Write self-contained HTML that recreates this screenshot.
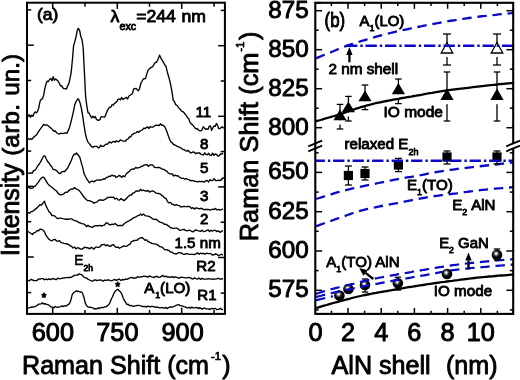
<!DOCTYPE html>
<html><head><meta charset="utf-8"><title>Raman figure</title>
<style>html,body{margin:0;padding:0;background:#fff;overflow:hidden}svg text{fill:#000;stroke:#000;stroke-linejoin:round}</style></head>
<body>
<svg width="520" height="380" viewBox="0 0 520 380" style="display:block;font-family:'Liberation Sans',sans-serif">
<rect x="0" y="0" width="520" height="380" fill="#fff"/>
<g id="left">
<polyline points="28.0,115.3 29.2,114.9 30.4,117.2 31.6,115.3 32.8,115.9 34.0,113.6 35.2,111.9 36.4,112.8 37.6,111.3 38.8,107.9 40.0,101.4 41.2,99.4 42.4,98.7 43.6,95.4 44.8,88.6 46.0,84.1 47.2,81.1 48.4,81.5 49.6,79.5 50.8,78.5 52.0,80.8 53.2,76.6 54.4,80.2 55.6,79.0 56.8,79.9 58.0,81.0 59.2,83.0 60.4,85.8 61.6,85.7 62.8,87.8 64.0,88.7 65.2,88.6 66.4,89.0 67.6,85.8 68.8,83.8 70.0,78.7 71.2,72.1 72.4,60.0 73.6,45.9 74.8,41.6 76.0,37.0 77.2,30.7 78.3,28.3 79.6,30.3 80.8,36.6 82.0,39.5 83.2,48.0 84.4,72.1 85.6,96.5 86.8,105.8 88.0,112.6 89.2,113.2 90.4,115.8 91.6,118.0 92.8,116.1 94.0,117.7 95.2,116.4 96.4,119.3 97.6,120.2 98.8,120.2 100.0,119.6 101.2,116.6 102.4,116.9 103.6,116.9 104.8,117.1 106.0,113.9 107.2,110.9 108.4,108.8 109.6,107.1 110.8,107.2 112.0,104.8 113.2,105.0 114.4,103.4 115.6,102.8 116.8,101.6 118.0,99.3 119.2,99.0 120.4,99.9 121.6,97.5 122.8,99.5 124.0,98.6 125.2,98.1 126.4,97.3 127.6,99.0 128.8,96.2 130.0,95.3 131.2,94.5 132.4,93.7 133.6,89.2 134.8,88.6 136.0,88.5 137.2,89.6 138.4,90.8 139.6,88.5 140.8,83.4 142.0,81.2 143.2,79.0 144.4,78.9 145.6,78.3 146.8,74.1 148.0,70.4 149.2,69.1 150.4,67.9 151.6,67.4 152.8,66.4 154.0,64.4 155.2,62.5 156.4,62.4 157.6,60.2 158.8,57.3 159.6,55.2 161.2,58.7 162.4,60.6 163.6,62.6 164.8,64.9 166.0,66.3 167.2,71.7 168.4,75.8 169.6,80.0 170.8,85.3 172.0,91.9 173.2,100.2 174.4,101.5 175.6,104.6 176.8,105.1 178.0,106.7 179.2,108.5 180.4,109.5 181.6,111.2 182.8,111.6 184.0,112.7 185.2,114.3 186.4,115.6 187.6,117.8 188.8,118.7 190.0,122.4 191.2,123.9 192.4,124.6 193.6,126.1 194.8,127.7 196.0,128.9 197.2,128.5 198.4,130.2 199.6,130.6 200.8,130.9 202.0,129.8 203.2,126.8 204.4,128.0 205.6,129.4 206.8,128.8 208.0,129.4 209.2,126.2 210.4,126.0 211.6,130.3 212.8,127.9 214.0,126.0 215.2,126.4 216.4,123.4 217.6,125.5 218.8,128.7 220.0,128.5 221.2,127.4 222.4,127.0 223.6,128.3" fill="none" stroke="#000" stroke-width="1.35" stroke-linejoin="round" />
<polyline points="28.0,138.1 29.3,139.6 30.6,138.8 31.9,139.3 33.2,137.8 34.5,136.3 35.8,135.7 37.1,134.0 38.4,131.9 39.7,129.9 41.0,128.1 42.3,126.3 43.6,124.4 44.9,125.1 46.2,124.8 47.5,125.2 48.8,126.2 50.1,127.6 51.4,128.4 52.7,130.0 54.0,131.3 55.3,131.0 56.6,132.7 57.9,133.5 59.2,134.1 60.5,133.2 61.8,133.3 63.1,133.6 64.4,133.2 65.7,132.8 67.0,133.2 68.3,130.4 69.6,127.2 70.9,122.2 72.2,116.9 73.5,111.1 74.8,104.6 76.1,101.4 78.0,98.7 78.7,99.4 80.0,102.7 81.3,107.8 82.6,115.4 83.9,124.4 85.2,132.7 86.5,138.2 87.8,141.9 89.1,143.4 90.4,145.0 91.7,146.8 93.0,147.0 94.3,146.5 95.6,146.4 96.9,146.3 98.2,147.9 99.5,147.3 100.8,145.3 102.1,146.4 103.4,146.4 104.7,145.2 106.0,144.1 107.3,144.3 108.6,142.9 109.9,141.9 111.2,143.1 112.5,141.9 113.8,141.4 115.1,142.3 116.4,140.8 117.7,141.7 119.0,141.5 120.3,139.8 121.6,140.5 122.9,141.1 124.2,141.2 125.5,141.0 126.8,139.5 128.1,138.8 129.4,137.0 130.7,137.0 132.0,134.7 133.3,133.9 134.6,133.2 135.9,132.9 137.2,131.5 138.5,132.4 139.8,131.1 141.1,130.5 142.4,129.9 143.7,128.1 145.0,128.6 146.3,127.6 147.6,126.9 148.9,128.5 150.2,126.6 151.5,127.1 152.8,127.2 154.1,126.3 155.4,125.2 156.7,125.3 158.0,125.1 159.3,125.5 160.6,123.8 161.9,125.4 163.2,125.2 164.5,126.4 165.8,129.0 167.1,132.3 168.4,136.1 169.7,139.5 171.0,141.9 172.3,143.0 173.6,144.5 174.9,145.0 176.2,145.6 177.5,146.7 178.8,146.8 180.1,147.6 181.4,148.1 182.7,149.6 184.0,149.4 185.3,150.5 186.6,151.2 187.9,150.4 189.2,151.4 190.5,152.7 191.8,152.7 193.1,151.8 194.4,152.4 195.7,153.7 197.0,152.8 198.3,153.2 199.6,152.8 200.9,154.4 202.2,154.6 203.5,154.8 204.8,152.8 206.1,154.6 207.4,154.7 208.7,153.3 210.0,155.3 211.3,155.4 212.6,153.2 213.9,155.4 215.2,154.0 216.5,154.4 217.8,156.0 219.1,155.8 220.4,154.0 221.7,154.0 223.0,153.5" fill="none" stroke="#000" stroke-width="1.35" stroke-linejoin="round" />
<polyline points="28.0,173.7 29.4,173.0 30.8,172.9 32.2,173.2 33.6,170.7 35.0,170.1 36.4,168.3 37.8,165.7 39.2,164.0 40.6,161.9 42.0,159.0 43.4,156.2 45.0,156.0 46.2,158.7 47.6,161.5 49.0,162.9 50.4,165.3 51.8,166.8 53.2,169.5 54.6,169.7 56.0,170.3 57.4,171.6 58.8,173.2 60.2,173.7 61.6,172.0 63.0,171.3 64.4,171.8 65.8,170.2 67.2,168.7 68.6,166.1 70.0,163.1 71.4,160.2 72.8,156.4 74.2,154.2 75.6,154.2 76.5,153.0 78.4,155.2 79.8,157.3 81.2,162.4 82.6,167.1 84.0,173.3 85.4,176.5 86.8,178.9 88.2,181.0 89.6,182.9 91.0,181.4 92.4,181.1 93.8,181.9 95.2,180.9 96.6,180.2 98.0,180.1 99.4,180.0 100.8,180.0 102.2,179.6 103.6,178.8 105.0,179.0 106.4,177.4 107.8,177.1 109.2,176.1 110.6,176.3 112.0,175.1 113.4,176.0 114.8,175.7 116.2,177.5 117.6,176.7 119.0,175.5 120.4,176.0 121.8,177.4 123.2,175.8 124.6,176.8 126.0,174.4 127.4,172.7 128.8,171.9 130.2,170.2 131.6,169.3 133.0,169.0 134.4,169.1 135.8,167.3 137.2,168.2 138.6,167.7 140.0,167.3 141.4,166.4 142.8,166.0 144.2,165.0 145.6,164.9 147.0,164.7 148.4,166.2 149.8,165.0 151.2,164.8 152.6,164.9 154.0,167.0 155.4,167.5 156.8,167.6 158.2,167.3 159.6,167.7 161.0,168.4 162.4,169.3 163.8,169.3 165.2,170.5 166.6,170.9 168.0,172.8 169.4,173.7 170.8,173.8 172.2,174.0 173.6,176.0 175.0,175.2 176.4,175.9 177.8,175.7 179.2,177.0 180.6,177.8 182.0,178.3 183.4,178.2 184.8,179.2 186.2,178.5 187.6,179.4 189.0,179.6 190.4,180.8 191.8,180.5 193.2,180.6 194.6,181.4 196.0,181.3 197.4,181.8 198.8,181.4 200.2,181.6 201.6,181.4 203.0,181.6 204.4,182.0 205.8,180.7 207.2,180.6 208.6,182.0 210.0,179.7 211.4,180.6 212.8,180.3 214.2,178.7 215.6,180.5 217.0,180.7 218.4,180.1 219.8,180.5 221.2,180.0 222.6,178.0 224.0,178.0" fill="none" stroke="#000" stroke-width="1.35" stroke-linejoin="round" />
<polyline points="28.0,187.0 29.5,188.0 31.0,188.4 32.5,188.2 34.0,186.6 35.5,185.9 37.0,183.9 38.5,181.9 40.0,179.7 41.5,177.8 43.0,177.0 44.0,177.6 46.0,180.6 47.5,183.4 49.0,185.1 50.5,186.2 52.0,187.2 53.5,188.7 55.0,190.0 56.5,190.9 58.0,193.4 59.5,194.4 61.0,195.0 62.5,194.3 64.0,193.8 65.5,192.1 67.0,192.4 68.5,190.9 70.0,189.7 71.5,189.0 73.0,189.1 74.5,187.6 76.0,188.8 77.5,189.5 79.0,190.3 80.5,192.2 82.0,194.3 83.5,196.5 85.0,198.3 86.5,199.7 88.0,200.7 89.5,200.6 91.0,201.4 92.5,201.9 94.0,203.2 95.5,202.4 97.0,202.1 98.5,200.4 100.0,200.0 101.5,200.0 103.0,200.3 104.5,199.6 106.0,198.8 107.5,197.5 109.0,197.4 110.5,197.1 112.0,197.4 113.5,197.2 115.0,199.0 116.5,198.1 118.0,199.9 119.5,200.1 121.0,198.6 122.5,199.7 124.0,200.6 125.5,199.5 127.0,197.7 128.5,196.3 130.0,195.1 131.5,195.0 133.0,193.0 134.5,192.6 136.0,191.0 137.5,191.0 139.0,191.2 140.5,189.3 142.0,190.7 143.5,190.0 145.0,191.0 146.5,191.0 148.0,190.5 149.5,192.0 151.0,191.4 152.5,190.9 154.0,191.4 155.5,192.8 157.0,193.3 158.5,193.5 160.0,193.8 161.5,195.1 163.0,196.1 164.5,197.9 166.0,198.5 167.5,201.5 169.0,202.9 170.5,202.4 172.0,204.3 173.5,204.5 175.0,205.3 176.5,204.7 178.0,205.3 179.5,205.7 181.0,207.1 182.5,206.6 184.0,206.3 185.5,206.6 187.0,206.5 188.5,206.3 190.0,206.8 191.5,208.5 193.0,207.7 194.5,209.1 196.0,207.9 197.5,208.2 199.0,208.9 200.5,208.3 202.0,208.5 203.5,209.6 205.0,209.5 206.5,209.5 208.0,209.3 209.5,209.9 211.0,210.0 212.5,209.2 214.0,209.6 215.5,208.4 217.0,209.9 218.5,209.4 220.0,210.1 221.5,209.7 223.0,208.7" fill="none" stroke="#000" stroke-width="1.35" stroke-linejoin="round" />
<polyline points="28.0,212.2 29.5,213.4 31.0,211.6 32.5,211.6 34.0,210.3 35.5,209.1 37.0,207.9 38.5,206.3 40.0,204.6 41.5,205.2 43.0,203.1 44.4,201.2 46.0,205.9 47.5,208.7 49.0,211.7 50.5,213.1 52.0,215.6 53.5,215.7 55.0,216.1 56.5,217.9 58.0,218.6 59.5,218.1 61.0,218.1 62.5,218.6 64.0,218.8 65.5,219.4 67.0,219.0 68.5,219.3 70.0,218.8 71.5,218.8 73.0,219.8 74.5,220.6 76.0,220.9 77.5,221.6 79.0,222.5 80.5,223.1 82.0,223.7 83.5,223.9 85.0,224.8 86.5,226.6 88.0,225.4 89.5,226.5 91.0,226.9 92.5,227.4 94.0,226.0 95.5,225.9 97.0,225.7 98.5,225.7 100.0,225.4 101.5,226.0 103.0,225.4 104.5,225.1 106.0,223.0 107.5,223.0 109.0,224.5 110.5,224.9 112.0,224.1 113.5,224.5 115.0,223.6 116.5,224.6 118.0,225.9 119.5,225.5 121.0,225.4 122.5,225.5 124.0,224.0 125.5,222.8 127.0,221.8 128.5,221.2 130.0,220.2 131.5,219.4 133.0,218.2 134.5,217.4 136.0,216.8 137.5,215.8 139.0,215.4 140.5,214.1 142.0,215.3 143.5,213.9 145.0,215.6 146.5,215.9 148.0,216.1 149.5,216.6 151.0,217.5 152.5,218.8 154.0,219.5 155.5,219.2 157.0,219.8 158.5,221.3 160.0,222.1 161.5,222.6 163.0,223.1 164.5,224.4 166.0,224.2 167.5,225.4 169.0,226.3 170.5,227.8 172.0,227.9 173.5,228.6 175.0,228.2 176.5,228.1 178.0,228.6 179.5,230.3 181.0,230.2 182.5,229.7 184.0,229.4 185.5,230.4 187.0,230.8 188.5,230.3 190.0,230.2 191.5,231.3 193.0,231.9 194.5,230.4 196.0,230.0 197.5,230.6 199.0,230.8 200.5,231.4 202.0,230.3 203.5,231.6 205.0,231.3 206.5,230.6 208.0,229.8 209.5,231.5 211.0,230.2 212.5,231.3 214.0,230.3 215.5,230.4 217.0,231.6 218.5,230.8 220.0,232.4 221.5,231.4 223.0,230.7" fill="none" stroke="#000" stroke-width="1.35" stroke-linejoin="round" />
<polyline points="28.0,231.5 29.5,232.5 31.0,233.5 32.5,234.5 34.0,232.6 35.5,232.4 37.0,230.6 38.5,230.8 40.0,229.2 41.5,229.3 43.0,230.0 44.5,231.9 46.0,235.4 47.5,237.4 49.0,239.3 50.5,240.4 52.0,240.8 53.5,239.6 55.0,239.3 56.5,241.0 58.0,241.1 59.5,240.6 61.0,242.6 62.5,242.9 64.0,243.3 65.5,243.6 67.0,244.0 68.5,244.5 70.0,245.6 71.5,246.4 73.0,248.0 74.5,247.0 76.0,248.9 77.5,247.7 79.0,248.1 80.5,249.1 82.0,249.1 83.5,248.1 85.0,247.2 86.5,247.9 88.0,247.7 89.5,248.9 91.0,247.5 92.5,248.0 94.0,249.2 95.5,247.1 97.0,247.2 98.5,247.4 100.0,246.8 101.5,245.0 103.0,244.6 104.5,244.4 106.0,245.9 107.5,244.7 109.0,246.0 110.5,246.4 112.0,245.0 113.5,244.7 115.0,246.7 116.5,247.3 118.0,247.1 119.5,248.3 121.0,247.3 122.5,246.7 124.0,245.8 125.5,246.4 127.0,246.1 128.5,244.8 130.0,244.1 131.5,241.7 133.0,241.0 134.5,240.5 136.0,240.3 137.5,240.0 139.0,238.5 140.5,237.8 142.0,237.5 143.5,238.6 145.0,240.2 146.5,239.8 148.0,241.5 149.5,242.1 151.0,243.0 152.5,243.6 154.0,243.9 155.5,243.9 157.0,244.6 158.5,245.4 160.0,246.8 161.5,246.8 163.0,247.9 164.5,249.6 166.0,249.6 167.5,250.0 169.0,250.6 170.5,252.0 172.0,252.1 173.5,253.6 175.0,253.6 176.5,254.0 178.0,252.8 179.5,252.7 181.0,252.9 182.5,253.8 184.0,254.4 185.5,254.0 187.0,253.7 188.5,254.2 190.0,254.4 191.5,254.4 193.0,254.4 194.5,254.5 196.0,253.9 197.5,252.8 199.0,254.3 200.5,253.1 202.0,253.7 203.5,253.3 205.0,254.2 206.5,253.2 208.0,253.5 209.5,253.6 211.0,253.6 212.5,255.2 214.0,254.6 215.5,254.0 217.0,254.3 218.5,255.7 220.0,255.0 221.5,254.2 223.0,255.2" fill="none" stroke="#000" stroke-width="1.35" stroke-linejoin="round" />
<polyline points="28.0,280.3 29.5,280.8 31.0,279.3 32.5,280.0 34.0,280.5 35.5,280.6 37.0,280.5 38.5,279.0 40.0,279.2 41.5,278.7 43.0,278.6 44.5,279.8 46.0,279.1 47.5,279.7 49.0,278.8 50.5,279.6 52.0,278.9 53.5,278.5 55.0,279.3 56.5,279.5 58.0,278.1 59.5,278.8 61.0,278.7 62.5,278.0 64.0,278.1 65.5,277.6 67.0,277.6 68.5,277.5 70.0,277.5 71.5,277.2 73.0,276.1 74.5,275.3 76.0,275.2 77.5,275.1 79.0,273.9 80.5,274.3 82.0,274.9 83.5,276.7 85.0,277.7 86.5,278.1 88.0,279.1 89.5,280.0 91.0,280.7 92.5,281.2 94.0,280.1 95.5,279.9 97.0,280.7 98.5,280.2 100.0,280.0 101.5,280.1 103.0,281.2 104.5,280.1 106.0,280.4 107.5,280.0 109.0,280.0 110.5,280.7 112.0,280.8 113.5,279.8 115.0,279.5 116.5,280.4 118.0,279.5 119.5,279.2 121.0,280.5 122.5,279.5 124.0,279.9 125.5,279.0 127.0,279.4 128.5,278.6 130.0,277.8 131.5,277.4 133.0,278.0 134.5,277.9 136.0,278.1 137.5,276.7 139.0,277.3 140.5,276.8 142.0,276.9 143.5,276.2 145.0,276.3 146.5,276.5 148.0,277.1 149.5,275.9 151.0,276.6 152.5,277.2 154.0,277.6 155.5,276.5 157.0,276.3 158.5,277.4 160.0,277.2 161.5,276.3 163.0,275.4 164.5,276.8 166.0,276.1 167.5,277.1 169.0,276.8 170.5,277.3 172.0,276.5 173.5,277.6 175.0,276.8 176.5,277.2 178.0,278.0 179.5,278.1 181.0,277.1 182.5,277.3 184.0,277.6 185.5,277.9 187.0,277.8 188.5,277.4 190.0,277.7 191.5,278.6 193.0,279.0 194.5,277.8 196.0,278.7 197.5,279.1 199.0,278.0 200.5,279.4 202.0,278.3 203.5,279.1 205.0,279.1 206.5,279.2 208.0,278.7 209.5,278.9 211.0,279.1 212.5,278.9 214.0,279.3 215.5,278.9 217.0,278.9 218.5,278.2 220.0,279.2 221.5,279.0 223.0,278.5" fill="none" stroke="#000" stroke-width="1.35" stroke-linejoin="round" />
<polyline points="28.0,307.8 29.3,307.8 30.6,307.3 31.9,306.8 33.2,307.2 34.5,306.6 35.8,306.2 37.1,305.5 38.4,304.2 39.7,304.1 41.0,303.9 42.3,302.8 43.6,304.0 44.9,303.5 46.2,304.4 47.5,304.5 48.8,305.1 50.1,306.3 51.4,307.2 52.7,307.1 54.0,307.7 55.3,306.5 56.6,307.3 57.9,307.3 59.2,306.8 60.5,306.7 61.8,305.7 63.1,306.6 64.4,305.7 65.7,306.1 67.0,305.6 68.3,304.3 69.6,303.6 70.9,300.0 72.2,294.7 73.5,292.9 74.8,292.0 76.5,290.7 77.4,291.5 78.7,291.2 80.0,292.0 81.3,291.9 82.6,293.4 83.9,297.2 85.2,302.9 86.5,305.5 87.8,306.8 89.1,307.3 90.4,307.1 91.7,307.6 93.0,307.8 94.3,309.0 95.6,308.6 96.9,308.9 98.2,307.8 99.5,308.6 100.8,307.5 102.1,307.7 103.4,307.5 104.7,306.8 106.0,306.9 107.3,305.7 108.6,304.7 109.9,302.8 111.2,299.3 112.5,296.8 113.8,293.6 115.1,291.3 116.4,290.3 117.8,289.3 119.0,290.6 120.3,291.7 121.6,293.6 122.9,297.2 124.2,300.2 125.5,302.2 126.8,304.5 128.1,304.2 129.4,305.6 130.7,305.3 132.0,305.9 133.3,306.4 134.6,305.8 135.9,305.9 137.2,305.4 138.5,305.4 139.8,305.7 141.1,305.9 142.4,306.6 143.7,306.4 145.0,306.5 146.3,307.1 147.6,306.1 148.9,306.3 150.2,307.0 151.5,306.3 152.8,306.4 154.1,307.0 155.4,306.8 156.7,307.3 158.0,307.2 159.3,307.8 160.6,307.9 161.9,307.4 163.2,308.1 164.5,308.0 165.8,307.5 167.1,308.6 168.4,307.6 169.7,307.1 171.0,306.8 172.3,307.0 173.6,306.7 174.9,306.0 176.2,305.3 177.5,304.9 178.8,304.6 180.1,305.7 181.4,305.8 182.7,306.0 184.0,306.8 185.3,306.9 186.6,307.8 187.9,307.9 189.2,307.3 190.5,308.3 191.8,307.1 193.1,307.9 194.4,307.8 195.7,307.6 197.0,307.4 198.3,308.6 199.6,307.6 200.9,308.4 202.2,309.1 203.5,308.1 204.8,308.2 206.1,308.9 207.4,308.8 208.7,309.0 210.0,309.4 211.3,308.5 212.6,308.7 213.9,308.7 215.2,308.3 216.5,309.6 217.8,309.4 219.1,309.3 220.4,308.3 221.7,309.5 223.0,309.4" fill="none" stroke="#000" stroke-width="1.35" stroke-linejoin="round" />
<rect x="27.0" y="2.7" width="197.9" height="311.2" fill="none" stroke="#000" stroke-width="2.0"/>
<line x1="52.7" y1="313.9" x2="52.7" y2="307.8" stroke="#000" stroke-width="1.5" />
<line x1="52.7" y1="2.7" x2="52.7" y2="8.9" stroke="#000" stroke-width="1.5" />
<line x1="85.0" y1="313.9" x2="85.0" y2="309.9" stroke="#000" stroke-width="1.5" />
<line x1="85.0" y1="2.7" x2="85.0" y2="6.7" stroke="#000" stroke-width="1.5" />
<line x1="117.3" y1="313.9" x2="117.3" y2="307.8" stroke="#000" stroke-width="1.5" />
<line x1="117.3" y1="2.7" x2="117.3" y2="8.9" stroke="#000" stroke-width="1.5" />
<line x1="149.5" y1="313.9" x2="149.5" y2="309.9" stroke="#000" stroke-width="1.5" />
<line x1="149.5" y1="2.7" x2="149.5" y2="6.7" stroke="#000" stroke-width="1.5" />
<line x1="181.7" y1="313.9" x2="181.7" y2="307.8" stroke="#000" stroke-width="1.5" />
<line x1="181.7" y1="2.7" x2="181.7" y2="8.9" stroke="#000" stroke-width="1.5" />
<line x1="214.0" y1="313.9" x2="214.0" y2="309.9" stroke="#000" stroke-width="1.5" />
<line x1="214.0" y1="2.7" x2="214.0" y2="6.7" stroke="#000" stroke-width="1.5" />
<line x1="27.0" y1="9.9" x2="31.2" y2="9.9" stroke="#000" stroke-width="1.5" />
<line x1="224.9" y1="10.4" x2="220.7" y2="10.4" stroke="#000" stroke-width="1.5" />
<line x1="27.0" y1="45.2" x2="33.8" y2="45.2" stroke="#000" stroke-width="1.5" />
<line x1="224.9" y1="45.7" x2="218.1" y2="45.7" stroke="#000" stroke-width="1.5" />
<line x1="27.0" y1="80.5" x2="31.2" y2="80.5" stroke="#000" stroke-width="1.5" />
<line x1="224.9" y1="81.0" x2="220.7" y2="81.0" stroke="#000" stroke-width="1.5" />
<line x1="27.0" y1="115.8" x2="33.8" y2="115.8" stroke="#000" stroke-width="1.5" />
<line x1="224.9" y1="116.3" x2="218.1" y2="116.3" stroke="#000" stroke-width="1.5" />
<line x1="27.0" y1="151.1" x2="31.2" y2="151.1" stroke="#000" stroke-width="1.5" />
<line x1="224.9" y1="151.6" x2="220.7" y2="151.6" stroke="#000" stroke-width="1.5" />
<line x1="27.0" y1="186.4" x2="33.8" y2="186.4" stroke="#000" stroke-width="1.5" />
<line x1="224.9" y1="186.9" x2="218.1" y2="186.9" stroke="#000" stroke-width="1.5" />
<line x1="27.0" y1="221.7" x2="31.2" y2="221.7" stroke="#000" stroke-width="1.5" />
<line x1="224.9" y1="222.2" x2="220.7" y2="222.2" stroke="#000" stroke-width="1.5" />
<line x1="27.0" y1="257.0" x2="33.8" y2="257.0" stroke="#000" stroke-width="1.5" />
<line x1="224.9" y1="257.5" x2="218.1" y2="257.5" stroke="#000" stroke-width="1.5" />
<line x1="27.0" y1="292.6" x2="31.2" y2="292.6" stroke="#000" stroke-width="1.5" />
<line x1="224.9" y1="293.1" x2="220.7" y2="293.1" stroke="#000" stroke-width="1.5" />
<text transform="translate(52.90,341.10) scale(1.025,1.050)" font-size="24.7" stroke-width="0.95" text-anchor="middle">600</text>
<text transform="translate(117.40,341.10) scale(1.025,1.050)" font-size="24.7" stroke-width="0.95" text-anchor="middle">750</text>
<text transform="translate(182.60,341.10) scale(1.025,1.050)" font-size="24.7" stroke-width="0.95" text-anchor="middle">900</text>
<text transform="translate(22.00,374.20) scale(1.025,1.020)" font-size="24.5" stroke-width="0.85" text-anchor="start">Raman Shift (cm<tspan dy="-13.6" dx="1.9" font-size="11" stroke-width="0.7">-1</tspan><tspan dy="13.6" dx="1.4">)</tspan></text>
<text transform="translate(19.00,256.00) rotate(-90) scale(1.000,1.020)" font-size="24.3" stroke-width="0.85" text-anchor="start" word-spacing="3"><tspan font-size="24.9">Intensity</tspan><tspan dx="-2.2"> (</tspan><tspan letter-spacing="0.6">arb.</tspan><tspan dx="-2.2"> un.)</tspan></text>
<text transform="translate(36.90,19.80) scale(1.055,1.000)" font-size="16.6" stroke-width="0.85" text-anchor="start">(a)</text>
<text transform="translate(110.60,21.60) scale(1.055,1.000)" font-size="16.7" stroke-width="0.85" text-anchor="start">λ<tspan dy="8.4" font-size="10.2" stroke-width="0.8">exc</tspan><tspan dy="-8.4">=244</tspan><tspan dx="0.8"> nm</tspan></text>
<text transform="translate(195.50,117.30) scale(1.045,1.000)" font-size="14.5" stroke-width="0.85" text-anchor="start">11</text>
<text transform="translate(200.00,149.00) scale(1.045,1.000)" font-size="14.5" stroke-width="0.85" text-anchor="start">8</text>
<text transform="translate(200.00,172.50) scale(1.045,1.000)" font-size="14.5" stroke-width="0.85" text-anchor="start">5</text>
<text transform="translate(200.00,200.50) scale(1.045,1.000)" font-size="14.5" stroke-width="0.85" text-anchor="start">3</text>
<text transform="translate(200.00,223.70) scale(1.045,1.000)" font-size="14.5" stroke-width="0.85" text-anchor="start">2</text>
<text transform="translate(174.50,248.30) scale(1.045,1.000)" font-size="14.5" stroke-width="0.85" text-anchor="start">1.5 nm</text>
<text transform="translate(196.30,271.30) scale(1.045,1.000)" font-size="14.5" stroke-width="0.85" text-anchor="start">R2</text>
<text transform="translate(197.30,300.30) scale(1.045,1.000)" font-size="14.5" stroke-width="0.85" text-anchor="start">R1</text>
<text transform="translate(74.30,265.00) scale(0.980,1.000)" font-size="14.2" stroke-width="0.6" text-anchor="start">E<tspan dy="5.6" font-size="8.7" stroke-width="0.8">2h</tspan></text>
<text transform="translate(144.20,293.20) scale(1.045,1.000)" font-size="14.5" stroke-width="0.85" text-anchor="start">A<tspan dy="4.5" dx="0.8" font-size="8.5" stroke-width="0.8">1</tspan><tspan dy="-4.5">(LO)</tspan></text>
<text transform="translate(44.00,302.40)" font-size="12.5" stroke-width="0.9" text-anchor="middle">*</text>
<text transform="translate(117.80,291.20)" font-size="12.5" stroke-width="0.9" text-anchor="middle">*</text>
</g>
<g id="right">
<polyline points="316.0,58.3 316.8,58.0 317.7,57.6 318.9,57.1 320.1,56.6 321.5,56.0 323.0,55.4 324.5,54.8 326.1,54.2 327.6,53.6 329.1,53.0 330.6,52.4 332.0,51.8 333.3,51.3 334.5,50.8 335.6,50.3 336.7,49.8 337.8,49.3 338.9,48.8 340.1,48.3 341.3,47.8 342.7,47.3 344.3,46.7 346.0,46.1 348.0,45.4 350.2,44.7 352.6,43.9 355.3,43.0 358.0,42.2 360.9,41.2 363.9,40.3 367.0,39.4 370.1,38.5 373.1,37.6 376.2,36.7 379.1,35.9 382.0,35.1 384.8,34.4 387.6,33.7 390.3,33.0 393.1,32.3 395.9,31.7 398.6,31.1 401.4,30.5 404.1,29.9 406.8,29.3 409.6,28.7 412.3,28.2 415.0,27.6 417.7,27.0 420.4,26.5 423.0,25.9 425.7,25.4 428.4,24.9 431.0,24.3 433.6,23.8 436.3,23.3 439.0,22.8 441.6,22.3 444.3,21.9 447.0,21.4 449.7,20.9 452.4,20.5 455.2,20.1 457.9,19.6 460.7,19.2 463.4,18.8 466.2,18.4 469.0,18.0 471.7,17.6 474.5,17.2 477.2,16.9 480.0,16.5 482.9,16.1 485.9,15.8 489.0,15.4 492.2,15.1 495.4,14.8 498.6,14.4 501.6,14.1 504.4,13.9 507.1,13.6 509.4,13.4 511.4,13.2 513.0,13.0" fill="none" stroke="#0909c6" stroke-width="2.3" stroke-linejoin="round" stroke-dasharray="9.4 5.8"/>
<polyline points="316.0,199.0 317.5,198.5 319.3,198.0 321.3,197.3 323.6,196.6 326.2,195.8 328.9,195.0 331.8,194.1 334.8,193.2 338.0,192.2 341.3,191.3 344.6,190.5 348.0,189.6 351.6,188.7 355.7,187.8 360.0,186.9 364.5,185.9 369.2,184.9 373.9,184.0 378.5,183.0 383.0,182.1 387.3,181.2 391.3,180.4 394.9,179.7 398.0,179.1 400.6,178.6 402.7,178.2 404.4,177.9 405.9,177.6 407.1,177.4 408.2,177.2 409.2,177.1 410.2,177.0 411.3,176.8 412.6,176.6 414.1,176.3 416.0,176.0 418.1,175.6 420.2,175.2 422.4,174.8 424.7,174.3 427.0,173.8 429.5,173.3 432.1,172.8 434.8,172.3 437.6,171.8 440.6,171.3 443.7,170.8 447.0,170.3 450.6,169.8 454.6,169.3 459.0,168.7 463.5,168.2 468.2,167.6 472.9,167.1 477.6,166.5 482.1,166.0 486.4,165.5 490.4,165.1 494.0,164.7 497.0,164.3 499.6,164.0 501.8,163.7 503.8,163.5 505.4,163.3 506.9,163.2 508.1,163.0 509.2,162.9 510.1,162.8 510.9,162.7 511.7,162.6 512.3,162.6 513.0,162.5" fill="none" stroke="#0909c6" stroke-width="2.3" stroke-linejoin="round" stroke-dasharray="9.4 5.8"/>
<polyline points="316.0,226.2 317.2,225.8 318.6,225.3 320.3,224.7 322.2,224.0 324.3,223.2 326.5,222.4 328.8,221.6 331.1,220.8 333.4,220.0 335.7,219.2 337.9,218.4 340.0,217.7 342.0,217.0 343.9,216.3 345.7,215.7 347.6,215.0 349.4,214.3 351.2,213.7 353.1,213.0 355.1,212.4 357.2,211.7 359.3,211.1 361.6,210.4 364.0,209.8 366.6,209.2 369.4,208.5 372.3,207.9 375.3,207.3 378.5,206.6 381.6,206.0 384.8,205.4 388.0,204.8 391.1,204.2 394.2,203.6 397.2,203.1 400.0,202.5 402.7,202.0 405.5,201.4 408.2,200.9 410.8,200.4 413.4,199.9 416.0,199.4 418.5,198.9 421.0,198.4 423.3,198.0 425.6,197.6 427.9,197.2 430.0,196.8 432.0,196.5 433.8,196.2 435.5,196.0 437.0,195.8 438.5,195.6 440.0,195.4 441.5,195.2 443.0,195.1 444.5,194.9 446.2,194.7 448.0,194.5 450.0,194.2 452.1,193.9 454.4,193.6 456.7,193.3 459.1,192.9 461.6,192.6 464.2,192.2 466.8,191.9 469.4,191.5 472.1,191.2 474.7,190.8 477.4,190.5 480.0,190.2 482.8,189.9 485.7,189.6 488.8,189.3 492.0,189.0 495.2,188.7 498.4,188.4 501.4,188.2 504.3,187.9 507.0,187.7 509.4,187.5 511.4,187.3 513.0,187.2" fill="none" stroke="#0909c6" stroke-width="2.3" stroke-linejoin="round" stroke-dasharray="9.4 5.8"/>
<line x1="314.6" y1="2.9" x2="321.0" y2="2.9" stroke="#0909c6" stroke-width="2" />
<polyline points="316.0,308.0 317.2,307.7 318.6,307.3 320.3,306.8 322.2,306.2 324.2,305.6 326.4,305.0 328.7,304.3 331.0,303.7 333.4,303.0 335.7,302.4 337.9,301.8 340.0,301.2 342.0,300.7 344.0,300.1 346.0,299.6 348.0,299.1 349.9,298.6 351.9,298.0 354.0,297.5 356.0,297.0 358.2,296.5 360.4,296.0 362.6,295.5 365.0,295.0 367.5,294.5 370.2,294.0 373.0,293.4 376.0,292.9 378.9,292.3 381.9,291.8 384.9,291.3 387.8,290.8 390.6,290.3 393.3,289.8 395.7,289.4 398.0,289.0 400.0,288.6 401.7,288.3 403.2,288.1 404.6,287.8 405.9,287.6 407.1,287.4 408.3,287.2 409.6,287.0 410.9,286.8 412.4,286.6 414.1,286.3 416.0,286.0 418.1,285.7 420.4,285.3 422.8,285.0 425.3,284.6 427.9,284.2 430.6,283.8 433.3,283.4 436.0,283.0 438.8,282.6 441.6,282.2 444.3,281.9 447.0,281.5 449.7,281.1 452.4,280.8 455.1,280.4 457.9,280.1 460.6,279.7 463.4,279.3 466.1,279.0 468.9,278.7 471.7,278.3 474.5,278.0 477.2,277.7 480.0,277.4 482.9,277.1 485.9,276.8 489.0,276.5 492.2,276.3 495.4,276.0 498.6,275.7 501.6,275.5 504.4,275.3 507.1,275.1 509.4,274.9 511.4,274.7 513.0,274.6" fill="none" stroke="#000" stroke-width="2.3" stroke-linejoin="round" />
<line x1="340.0" y1="104.4" x2="340.0" y2="129.0" stroke="#000" stroke-width="1.3" /><line x1="336.7" y1="104.4" x2="343.3" y2="104.4" stroke="#000" stroke-width="1.3" /><line x1="336.7" y1="129.0" x2="343.3" y2="129.0" stroke="#000" stroke-width="1.3" />
<rect x="338.5" y="120.3" width="3" height="4.2" fill="#fff"/>
<polygon points="340.0,109.5 333.4,120.3 346.6,120.3" fill="#000"/>
<line x1="348.4" y1="96.4" x2="348.4" y2="121.0" stroke="#000" stroke-width="1.3" /><line x1="345.1" y1="96.4" x2="351.7" y2="96.4" stroke="#000" stroke-width="1.3" /><line x1="345.1" y1="121.0" x2="351.7" y2="121.0" stroke="#000" stroke-width="1.3" />
<rect x="346.9" y="112.3" width="3" height="4.2" fill="#fff"/>
<polygon points="348.4,101.5 341.8,112.3 355.0,112.3" fill="#000"/>
<line x1="365.0" y1="85.0" x2="365.0" y2="109.6" stroke="#000" stroke-width="1.3" /><line x1="361.7" y1="85.0" x2="368.3" y2="85.0" stroke="#000" stroke-width="1.3" /><line x1="361.7" y1="109.6" x2="368.3" y2="109.6" stroke="#000" stroke-width="1.3" />
<rect x="363.5" y="101.3" width="3" height="4.2" fill="#fff"/>
<polygon points="365.0,90.5 358.4,101.3 371.6,101.3" fill="#000"/>
<line x1="398.4" y1="79.0" x2="398.4" y2="103.6" stroke="#000" stroke-width="1.3" /><line x1="395.1" y1="79.0" x2="401.7" y2="79.0" stroke="#000" stroke-width="1.3" /><line x1="395.1" y1="103.6" x2="401.7" y2="103.6" stroke="#000" stroke-width="1.3" />
<rect x="396.9" y="94.3" width="3" height="4.2" fill="#fff"/>
<polygon points="398.4,83.1 391.8,94.3 405.0,94.3" fill="#000"/>
<line x1="447.0" y1="72.0" x2="447.0" y2="121.0" stroke="#000" stroke-width="1.3" /><line x1="443.7" y1="72.0" x2="450.3" y2="72.0" stroke="#000" stroke-width="1.3" /><line x1="443.7" y1="121.0" x2="450.3" y2="121.0" stroke="#000" stroke-width="1.3" />
<rect x="445.5" y="100.0" width="3" height="4.2" fill="#fff"/>
<polygon points="447.0,88.5 440.4,100.0 453.6,100.0" fill="#000"/>
<line x1="497.0" y1="72.0" x2="497.0" y2="121.0" stroke="#000" stroke-width="1.3" /><line x1="493.7" y1="72.0" x2="500.3" y2="72.0" stroke="#000" stroke-width="1.3" /><line x1="493.7" y1="121.0" x2="500.3" y2="121.0" stroke="#000" stroke-width="1.3" />
<rect x="495.5" y="100.0" width="3" height="4.2" fill="#fff"/>
<polygon points="497.0,88.5 490.4,100.0 503.6,100.0" fill="#000"/>
<line x1="447.0" y1="34.0" x2="447.0" y2="65.0" stroke="#000" stroke-width="1.3" /><line x1="443.0" y1="34.0" x2="451.0" y2="34.0" stroke="#000" stroke-width="1.3" /><line x1="443.0" y1="65.0" x2="451.0" y2="65.0" stroke="#000" stroke-width="1.3" />
<rect x="445.5" y="53" width="3" height="4" fill="#fff"/>
<polygon points="447.0,42.5 441.2,53.0 452.8,53.0" fill="#fff" stroke="#000" stroke-width="1.3"/>
<line x1="497.0" y1="34.0" x2="497.0" y2="65.0" stroke="#000" stroke-width="1.3" /><line x1="493.0" y1="34.0" x2="501.0" y2="34.0" stroke="#000" stroke-width="1.3" /><line x1="493.0" y1="65.0" x2="501.0" y2="65.0" stroke="#000" stroke-width="1.3" />
<rect x="495.5" y="53" width="3" height="4" fill="#fff"/>
<polygon points="497.0,42.5 491.2,53.0 502.8,53.0" fill="#fff" stroke="#000" stroke-width="1.3"/>
<polyline points="316.0,121.3 317.2,120.9 318.7,120.5 320.6,120.0 322.6,119.4 324.9,118.7 327.2,118.0 329.6,117.3 331.9,116.6 334.2,116.0 336.4,115.3 338.3,114.7 340.0,114.2 341.5,113.7 342.8,113.3 344.0,112.9 345.2,112.5 346.2,112.1 347.2,111.7 348.2,111.4 349.1,111.0 350.1,110.7 351.0,110.4 352.0,110.0 353.0,109.7 354.0,109.4 355.0,109.0 356.0,108.7 357.0,108.4 357.9,108.1 358.9,107.8 359.8,107.5 360.8,107.2 361.8,106.9 362.8,106.6 363.9,106.3 365.0,106.0 366.1,105.7 367.3,105.4 368.4,105.1 369.6,104.8 370.8,104.5 372.0,104.2 373.2,103.8 374.5,103.5 375.8,103.2 377.2,102.9 378.6,102.6 380.0,102.3 381.5,102.0 383.1,101.7 384.7,101.3 386.4,101.0 388.2,100.7 389.9,100.3 391.7,100.0 393.4,99.7 395.2,99.4 396.8,99.1 398.5,98.8 400.0,98.5 401.4,98.2 402.7,98.0 403.9,97.8 405.1,97.6 406.2,97.4 407.3,97.2 408.5,97.0 409.7,96.8 411.0,96.6 412.5,96.3 414.2,96.0 416.0,95.7 418.0,95.3 420.1,95.0 422.2,94.6 424.5,94.1 426.9,93.7 429.4,93.2 432.0,92.8 434.7,92.3 437.6,91.8 440.6,91.3 443.7,90.9 447.0,90.4 450.6,89.9 454.6,89.4 459.0,88.9 463.5,88.3 468.2,87.8 472.9,87.2 477.6,86.7 482.1,86.2 486.4,85.7 490.4,85.2 494.0,84.8 497.0,84.5 499.6,84.2 501.8,84.0 503.8,83.8 505.4,83.6 506.9,83.5 508.1,83.4 509.2,83.3 510.1,83.2 510.9,83.2 511.7,83.1 512.3,83.1 513.0,83.0" fill="none" stroke="#000" stroke-width="2.3" stroke-linejoin="round" />
<line x1="346.0" y1="45.8" x2="513.0" y2="45.8" stroke="#0909c6" stroke-width="2.4" stroke-dasharray="11.3 3 2.4 2.8"/>
<line x1="348.4" y1="166.0" x2="348.4" y2="185.0" stroke="#000" stroke-width="1.3" /><line x1="344.9" y1="166.0" x2="351.9" y2="166.0" stroke="#000" stroke-width="1.3" /><line x1="344.9" y1="185.0" x2="351.9" y2="185.0" stroke="#000" stroke-width="1.3" />
<rect x="343.8" y="170.9" width="9.2" height="9.2" fill="#000"/>
<line x1="365.0" y1="167.0" x2="365.0" y2="180.0" stroke="#000" stroke-width="1.3" /><line x1="361.5" y1="167.0" x2="368.5" y2="167.0" stroke="#000" stroke-width="1.3" /><line x1="361.5" y1="180.0" x2="368.5" y2="180.0" stroke="#000" stroke-width="1.3" />
<rect x="360.4" y="168.9" width="9.2" height="9.2" fill="#000"/>
<line x1="398.4" y1="158.4" x2="398.4" y2="171.6" stroke="#000" stroke-width="1.3" /><line x1="394.9" y1="158.4" x2="401.9" y2="158.4" stroke="#000" stroke-width="1.3" /><line x1="394.9" y1="171.6" x2="401.9" y2="171.6" stroke="#000" stroke-width="1.3" />
<rect x="393.8" y="160.4" width="9.2" height="9.2" fill="#000"/>
<line x1="447.0" y1="151.0" x2="447.0" y2="164.0" stroke="#000" stroke-width="1.3" /><line x1="443.5" y1="151.0" x2="450.5" y2="151.0" stroke="#000" stroke-width="1.3" /><line x1="443.5" y1="164.0" x2="450.5" y2="164.0" stroke="#000" stroke-width="1.3" />
<rect x="442.4" y="152.4" width="9.2" height="9.2" fill="#000"/>
<line x1="497.0" y1="151.0" x2="497.0" y2="164.0" stroke="#000" stroke-width="1.3" /><line x1="493.5" y1="151.0" x2="500.5" y2="151.0" stroke="#000" stroke-width="1.3" /><line x1="493.5" y1="164.0" x2="500.5" y2="164.0" stroke="#000" stroke-width="1.3" />
<rect x="492.4" y="152.4" width="9.2" height="9.2" fill="#000"/>
<line x1="314.8" y1="160.7" x2="513.0" y2="160.7" stroke="#0909c6" stroke-width="2.4" stroke-dasharray="11.3 3 2.4 2.8" stroke-dashoffset="1.2"/>
<defs><radialGradient id="sg" cx="42%" cy="38%" r="60%"><stop offset="0" stop-color="#fff"/><stop offset="0.14" stop-color="#ddd"/><stop offset="0.36" stop-color="#444"/><stop offset="0.6" stop-color="#000"/><stop offset="1" stop-color="#000"/></radialGradient></defs>
<circle cx="339.4" cy="295.5" r="5.3" fill="url(#sg)"/>
<circle cx="348.4" cy="289.0" r="5.3" fill="url(#sg)"/>
<line x1="365.0" y1="279.0" x2="365.0" y2="292.0" stroke="#000" stroke-width="1.3" /><line x1="361.8" y1="279.0" x2="368.2" y2="279.0" stroke="#000" stroke-width="1.3" /><line x1="361.8" y1="292.0" x2="368.2" y2="292.0" stroke="#000" stroke-width="1.3" />
<circle cx="365.0" cy="285.0" r="5.3" fill="url(#sg)"/>
<line x1="397.9" y1="277.2" x2="397.9" y2="290.0" stroke="#000" stroke-width="1.3" /><line x1="394.7" y1="277.2" x2="401.1" y2="277.2" stroke="#000" stroke-width="1.3" /><line x1="394.7" y1="290.0" x2="401.1" y2="290.0" stroke="#000" stroke-width="1.3" />
<circle cx="397.9" cy="283.3" r="5.3" fill="url(#sg)"/>
<polyline points="316.0,293.8 316.8,293.6 317.7,293.3 318.7,293.0 319.9,292.6 321.2,292.2 322.6,291.8 324.0,291.3 325.6,290.8 327.1,290.4 328.7,289.9 330.4,289.4 332.0,289.0 333.7,288.6 335.4,288.1 337.3,287.6 339.1,287.2 341.1,286.7 343.1,286.2 345.1,285.7 347.1,285.2 349.1,284.7 351.1,284.2 353.1,283.8 355.0,283.3 356.9,282.8 358.8,282.4 360.6,281.9 362.4,281.5 364.2,281.1 366.1,280.6 367.9,280.2 369.8,279.8 371.8,279.3 373.8,278.9 375.8,278.4 378.0,278.0 380.3,277.5 382.8,277.1 385.4,276.6 388.0,276.1 390.8,275.6 393.5,275.1 396.2,274.7 398.9,274.2 401.4,273.8 403.8,273.3 406.0,273.0 408.0,272.6 409.8,272.3 411.4,272.0 412.8,271.7 414.1,271.5 415.4,271.3 416.5,271.1 417.6,270.9 418.6,270.7 419.7,270.6 420.7,270.4 421.8,270.2 423.0,270.0 424.2,269.8 425.4,269.6 426.5,269.4 427.7,269.2 428.8,269.0 429.9,268.8 431.1,268.6 432.2,268.4 433.4,268.2 434.6,268.0 435.8,267.8 437.0,267.6 438.3,267.4 439.6,267.2 440.9,267.0 442.2,266.8 443.5,266.6 444.9,266.4 446.2,266.2 447.6,266.0 449.0,265.8 450.3,265.6 451.7,265.4 453.0,265.2 454.3,265.0 455.7,264.8 457.0,264.7 458.4,264.5 459.7,264.3 461.1,264.1 462.4,264.0 463.7,263.8 465.1,263.7 466.4,263.5 467.7,263.3 469.0,263.2 470.3,263.1 471.5,262.9 472.8,262.8 474.0,262.7 475.3,262.5 476.5,262.4 477.7,262.3 479.0,262.2 480.2,262.1 481.5,261.9 482.7,261.8 484.0,261.7 485.3,261.6 486.6,261.4 488.0,261.3 489.4,261.2 490.7,261.0 492.1,260.9 493.5,260.8 494.9,260.7 496.2,260.5 497.5,260.4 498.8,260.3 500.0,260.2 501.2,260.1 502.5,260.0 503.8,259.9 505.0,259.8 506.3,259.7 507.5,259.6 508.7,259.5 509.7,259.4 510.7,259.4 511.6,259.3 512.4,259.2 513.0,259.2" fill="none" stroke="#0909c6" stroke-width="2.2" stroke-linejoin="round" stroke-dasharray="9.4 5.8"/>
<polyline points="316.0,297.0 316.8,296.8 317.7,296.6 318.7,296.3 319.9,296.0 321.2,295.7 322.6,295.3 324.0,294.9 325.6,294.5 327.1,294.2 328.7,293.8 330.4,293.4 332.0,293.0 333.7,292.6 335.4,292.2 337.3,291.8 339.1,291.4 341.1,291.0 343.1,290.6 345.1,290.2 347.1,289.7 349.1,289.3 351.1,288.9 353.1,288.5 355.0,288.1 356.9,287.7 358.8,287.3 360.6,287.0 362.4,286.6 364.2,286.2 366.1,285.9 367.9,285.5 369.8,285.2 371.8,284.8 373.8,284.4 375.8,284.0 378.0,283.6 380.3,283.2 382.8,282.7 385.4,282.2 388.0,281.7 390.8,281.2 393.5,280.7 396.2,280.2 398.9,279.8 401.4,279.3 403.8,278.9 406.0,278.5 408.0,278.1 409.8,277.8 411.4,277.5 412.8,277.2 414.1,277.0 415.4,276.8 416.5,276.6 417.6,276.4 418.6,276.3 419.7,276.1 420.7,275.9 421.8,275.7 423.0,275.5 424.2,275.3 425.4,275.1 426.5,274.9 427.7,274.6 428.8,274.4 429.9,274.2 431.1,274.0 432.2,273.8 433.4,273.6 434.6,273.3 435.8,273.1 437.0,272.9 438.3,272.7 439.6,272.4 440.9,272.2 442.2,272.0 443.5,271.7 444.9,271.5 446.2,271.3 447.6,271.0 449.0,270.8 450.3,270.6 451.7,270.4 453.0,270.2 454.3,270.0 455.7,269.8 457.0,269.7 458.4,269.5 459.7,269.3 461.1,269.2 462.4,269.0 463.7,268.9 465.1,268.7 466.4,268.6 467.7,268.4 469.0,268.3 470.3,268.2 471.5,268.0 472.8,267.9 474.0,267.8 475.3,267.7 476.5,267.6 477.7,267.5 479.0,267.4 480.2,267.3 481.5,267.2 482.7,267.1 484.0,267.0 485.3,266.9 486.6,266.8 488.0,266.6 489.4,266.5 490.7,266.4 492.1,266.3 493.5,266.2 494.9,266.0 496.2,265.9 497.5,265.8 498.8,265.7 500.0,265.6 501.2,265.5 502.5,265.4 503.8,265.3 505.0,265.2 506.3,265.1 507.5,265.0 508.7,264.9 509.7,264.8 510.7,264.8 511.6,264.7 512.4,264.6 513.0,264.6" fill="none" stroke="#0909c6" stroke-width="2.2" stroke-linejoin="round" stroke-dasharray="9.4 5.8"/>
<polyline points="316.0,300.2 316.4,300.1 316.9,300.0 317.4,299.9 318.0,299.7 318.7,299.6 319.4,299.4 320.2,299.2 321.0,299.0 321.7,298.8 322.5,298.7 323.3,298.5 324.0,298.3 324.7,298.1 325.5,297.9 326.4,297.7 327.3,297.5 328.1,297.3 329.0,297.1 329.8,296.9 330.6,296.8 331.4,296.6 332.0,296.4 332.6,296.3 333.0,296.2" fill="none" stroke="#0909c6" stroke-width="2.2" stroke-linejoin="round" stroke-dasharray="9.4 5.8"/>
<circle cx="447.0" cy="274.0" r="5.3" fill="url(#sg)"/>
<line x1="497.0" y1="249.0" x2="497.0" y2="260.0" stroke="#000" stroke-width="1.3" /><line x1="493.8" y1="249.0" x2="500.2" y2="249.0" stroke="#000" stroke-width="1.3" /><line x1="493.8" y1="260.0" x2="500.2" y2="260.0" stroke="#000" stroke-width="1.3" />
<circle cx="497.0" cy="254.9" r="5.3" fill="url(#sg)"/>
<line x1="349.4" y1="62.3" x2="349.4" y2="55.0" stroke="#000" stroke-width="2.3" /><polygon points="349.4,47.0 352.6,55.0 346.2,55.0" fill="#000"/>
<line x1="373.3" y1="279.0" x2="365.5" y2="272.9" stroke="#000" stroke-width="2.3" /><polygon points="359.2,268.0 367.7,270.2 363.4,275.7" fill="#000"/>
<line x1="468.5" y1="269.5" x2="468.5" y2="260.5" stroke="#000" stroke-width="2.3" /><polygon points="468.5,252.5 471.7,260.5 465.3,260.5" fill="#000"/>
<rect x="315.3" y="2.8" width="197.9" height="311.1" fill="none" stroke="#000" stroke-width="2.1"/>
<rect x="511.5" y="143.4" width="3.4" height="5" fill="#fff"/>
<line x1="308.3" y1="146.3" x2="322.1" y2="140.7" stroke="#000" stroke-width="1.8" />
<line x1="308.3" y1="151.3" x2="322.1" y2="145.7" stroke="#000" stroke-width="1.8" />
<line x1="506.2" y1="146.3" x2="520.0" y2="140.7" stroke="#000" stroke-width="1.8" />
<line x1="506.2" y1="151.3" x2="520.0" y2="145.7" stroke="#000" stroke-width="1.8" />
<line x1="331.4" y1="313.9" x2="331.4" y2="310.7" stroke="#000" stroke-width="1.5" />
<line x1="331.4" y1="2.8" x2="331.4" y2="6.0" stroke="#000" stroke-width="1.5" />
<line x1="348.0" y1="313.9" x2="348.0" y2="307.9" stroke="#000" stroke-width="1.5" />
<line x1="348.0" y1="2.8" x2="348.0" y2="8.8" stroke="#000" stroke-width="1.5" />
<line x1="364.6" y1="313.9" x2="364.6" y2="310.7" stroke="#000" stroke-width="1.5" />
<line x1="364.6" y1="2.8" x2="364.6" y2="6.0" stroke="#000" stroke-width="1.5" />
<line x1="381.2" y1="313.9" x2="381.2" y2="307.9" stroke="#000" stroke-width="1.5" />
<line x1="381.2" y1="2.8" x2="381.2" y2="8.8" stroke="#000" stroke-width="1.5" />
<line x1="397.8" y1="313.9" x2="397.8" y2="310.7" stroke="#000" stroke-width="1.5" />
<line x1="397.8" y1="2.8" x2="397.8" y2="6.0" stroke="#000" stroke-width="1.5" />
<line x1="414.4" y1="313.9" x2="414.4" y2="307.9" stroke="#000" stroke-width="1.5" />
<line x1="414.4" y1="2.8" x2="414.4" y2="8.8" stroke="#000" stroke-width="1.5" />
<line x1="431.0" y1="313.9" x2="431.0" y2="310.7" stroke="#000" stroke-width="1.5" />
<line x1="431.0" y1="2.8" x2="431.0" y2="6.0" stroke="#000" stroke-width="1.5" />
<line x1="447.6" y1="313.9" x2="447.6" y2="307.9" stroke="#000" stroke-width="1.5" />
<line x1="447.6" y1="2.8" x2="447.6" y2="8.8" stroke="#000" stroke-width="1.5" />
<line x1="464.2" y1="313.9" x2="464.2" y2="310.7" stroke="#000" stroke-width="1.5" />
<line x1="464.2" y1="2.8" x2="464.2" y2="6.0" stroke="#000" stroke-width="1.5" />
<line x1="480.8" y1="313.9" x2="480.8" y2="307.9" stroke="#000" stroke-width="1.5" />
<line x1="480.8" y1="2.8" x2="480.8" y2="8.8" stroke="#000" stroke-width="1.5" />
<line x1="497.4" y1="313.9" x2="497.4" y2="310.7" stroke="#000" stroke-width="1.5" />
<line x1="497.4" y1="2.8" x2="497.4" y2="6.0" stroke="#000" stroke-width="1.5" />
<line x1="315.3" y1="10.7" x2="322.1" y2="10.7" stroke="#000" stroke-width="1.5" />
<line x1="513.2" y1="10.7" x2="506.4" y2="10.7" stroke="#000" stroke-width="1.5" />
<line x1="315.3" y1="30.2" x2="318.7" y2="30.2" stroke="#000" stroke-width="1.5" />
<line x1="513.2" y1="30.2" x2="509.8" y2="30.2" stroke="#000" stroke-width="1.5" />
<line x1="315.3" y1="49.7" x2="322.1" y2="49.7" stroke="#000" stroke-width="1.5" />
<line x1="513.2" y1="49.7" x2="506.4" y2="49.7" stroke="#000" stroke-width="1.5" />
<line x1="315.3" y1="69.2" x2="318.7" y2="69.2" stroke="#000" stroke-width="1.5" />
<line x1="513.2" y1="69.2" x2="509.8" y2="69.2" stroke="#000" stroke-width="1.5" />
<line x1="315.3" y1="88.7" x2="322.1" y2="88.7" stroke="#000" stroke-width="1.5" />
<line x1="513.2" y1="88.7" x2="506.4" y2="88.7" stroke="#000" stroke-width="1.5" />
<line x1="315.3" y1="108.2" x2="318.7" y2="108.2" stroke="#000" stroke-width="1.5" />
<line x1="513.2" y1="108.2" x2="509.8" y2="108.2" stroke="#000" stroke-width="1.5" />
<line x1="315.3" y1="127.7" x2="322.1" y2="127.7" stroke="#000" stroke-width="1.5" />
<line x1="513.2" y1="127.7" x2="506.4" y2="127.7" stroke="#000" stroke-width="1.5" />
<line x1="315.3" y1="152.8" x2="318.7" y2="152.8" stroke="#000" stroke-width="1.5" />
<line x1="513.2" y1="152.8" x2="509.8" y2="152.8" stroke="#000" stroke-width="1.5" />
<line x1="315.3" y1="172.4" x2="322.1" y2="172.4" stroke="#000" stroke-width="1.5" />
<line x1="513.2" y1="172.4" x2="506.4" y2="172.4" stroke="#000" stroke-width="1.5" />
<line x1="315.3" y1="192.1" x2="318.7" y2="192.1" stroke="#000" stroke-width="1.5" />
<line x1="513.2" y1="192.1" x2="509.8" y2="192.1" stroke="#000" stroke-width="1.5" />
<line x1="315.3" y1="211.7" x2="322.1" y2="211.7" stroke="#000" stroke-width="1.5" />
<line x1="513.2" y1="211.7" x2="506.4" y2="211.7" stroke="#000" stroke-width="1.5" />
<line x1="315.3" y1="231.3" x2="318.7" y2="231.3" stroke="#000" stroke-width="1.5" />
<line x1="513.2" y1="231.3" x2="509.8" y2="231.3" stroke="#000" stroke-width="1.5" />
<line x1="315.3" y1="251.0" x2="322.1" y2="251.0" stroke="#000" stroke-width="1.5" />
<line x1="513.2" y1="251.0" x2="506.4" y2="251.0" stroke="#000" stroke-width="1.5" />
<line x1="315.3" y1="270.6" x2="318.7" y2="270.6" stroke="#000" stroke-width="1.5" />
<line x1="513.2" y1="270.6" x2="509.8" y2="270.6" stroke="#000" stroke-width="1.5" />
<line x1="315.3" y1="290.3" x2="322.1" y2="290.3" stroke="#000" stroke-width="1.5" />
<line x1="513.2" y1="290.3" x2="506.4" y2="290.3" stroke="#000" stroke-width="1.5" />
<line x1="315.3" y1="309.9" x2="318.7" y2="309.9" stroke="#000" stroke-width="1.5" />
<line x1="513.2" y1="309.9" x2="509.8" y2="309.9" stroke="#000" stroke-width="1.5" />
<text transform="translate(308.70,18.00) scale(1.000,0.985)" font-size="24.2" stroke-width="0.95" text-anchor="end">875</text>
<text transform="translate(308.70,57.00) scale(1.000,0.985)" font-size="24.2" stroke-width="0.95" text-anchor="end">850</text>
<text transform="translate(308.70,96.00) scale(1.000,0.985)" font-size="24.2" stroke-width="0.95" text-anchor="end">825</text>
<text transform="translate(308.70,135.00) scale(1.000,0.985)" font-size="24.2" stroke-width="0.95" text-anchor="end">800</text>
<text transform="translate(308.70,179.30) scale(1.000,0.985)" font-size="24.2" stroke-width="0.95" text-anchor="end">650</text>
<text transform="translate(308.70,218.60) scale(1.000,0.985)" font-size="24.2" stroke-width="0.95" text-anchor="end">625</text>
<text transform="translate(308.70,257.90) scale(1.000,0.985)" font-size="24.2" stroke-width="0.95" text-anchor="end">600</text>
<text transform="translate(308.70,297.20) scale(1.000,0.985)" font-size="24.2" stroke-width="0.95" text-anchor="end">575</text>
<text transform="translate(315.60,341.40) scale(1.025,1.050)" font-size="24.7" stroke-width="0.95" text-anchor="middle">0</text>
<text transform="translate(348.00,341.40) scale(1.025,1.050)" font-size="24.7" stroke-width="0.95" text-anchor="middle">2</text>
<text transform="translate(381.20,341.40) scale(1.025,1.050)" font-size="24.7" stroke-width="0.95" text-anchor="middle">4</text>
<text transform="translate(414.40,341.40) scale(1.025,1.050)" font-size="24.7" stroke-width="0.95" text-anchor="middle">6</text>
<text transform="translate(447.60,341.40) scale(1.025,1.050)" font-size="24.7" stroke-width="0.95" text-anchor="middle">8</text>
<text transform="translate(480.80,341.40) scale(1.025,1.050)" font-size="24.7" stroke-width="0.95" text-anchor="middle">10</text>
<text transform="translate(331.60,374.20) scale(1.025,1.020)" font-size="24.5" stroke-width="0.85" text-anchor="start">AlN shell</text>
<text transform="translate(446.00,374.20) scale(1.025,1.020)" font-size="24.5" stroke-width="0.85" text-anchor="start">(nm)</text>
<text transform="translate(257.50,241.20) rotate(-90) scale(1.034,1.020)" font-size="24.5" stroke-width="0.85" text-anchor="start">Raman Shift (cm<tspan dy="-13.6" dx="0.9" font-size="11" stroke-width="0.7">-1</tspan><tspan dy="13.6" dx="1.4">)</tspan></text>
<text transform="translate(324.60,26.70) scale(1.050,1.240)" font-size="16" stroke-width="0.8" text-anchor="start">(b)</text>
<text transform="translate(359.50,26.20) scale(1.030,1.000)" font-size="14.5" stroke-width="0.85" text-anchor="start">A<tspan dy="4.3" font-size="8.8" stroke-width="0.8">1</tspan><tspan dy="-4.3">(LO)</tspan></text>
<text transform="translate(328.50,74.00) scale(1.055,1.000)" font-size="14.5" stroke-width="0.85" text-anchor="start">2 nm shell</text>
<text transform="translate(383.50,117.40) scale(1.070,1.000)" font-size="14.5" stroke-width="0.85" text-anchor="start">IO mode</text>
<text transform="translate(344.50,148.90) scale(1.045,1.000)" font-size="14.5" stroke-width="0.85" text-anchor="start">relaxed E<tspan dy="6.2" font-size="8.6" stroke-width="0.8">2h</tspan></text>
<text transform="translate(407.00,189.60) scale(1.045,1.000)" font-size="14.5" stroke-width="0.85" text-anchor="start">E<tspan dy="5" font-size="8.5" stroke-width="0.8">1</tspan><tspan dy="-5">(TO)</tspan></text>
<text transform="translate(452.20,209.60) scale(1.045,1.000)" font-size="14.5" stroke-width="0.85" text-anchor="start">E<tspan dy="5.3" font-size="8.5" stroke-width="0.8">2</tspan><tspan dy="-5.3" dx="0.5"> AlN</tspan></text>
<text transform="translate(439.20,247.80) scale(1.025,1.000)" font-size="14.5" stroke-width="0.85" text-anchor="start">E<tspan dy="5.3" font-size="8.5" stroke-width="0.8">2</tspan><tspan dy="-5.3"> GaN</tspan></text>
<text transform="translate(326.30,267.20) scale(1.040,1.000)" font-size="14.5" stroke-width="0.8" text-anchor="start">A<tspan dy="4.5" font-size="8.5" stroke-width="0.8">1</tspan><tspan dy="-4.5">(TO) AlN</tspan></text>
<text transform="translate(433.80,295.70) scale(1.050,1.000)" font-size="14.5" stroke-width="0.85" text-anchor="start">IO mode</text>
</g>
</svg>
</body></html>
